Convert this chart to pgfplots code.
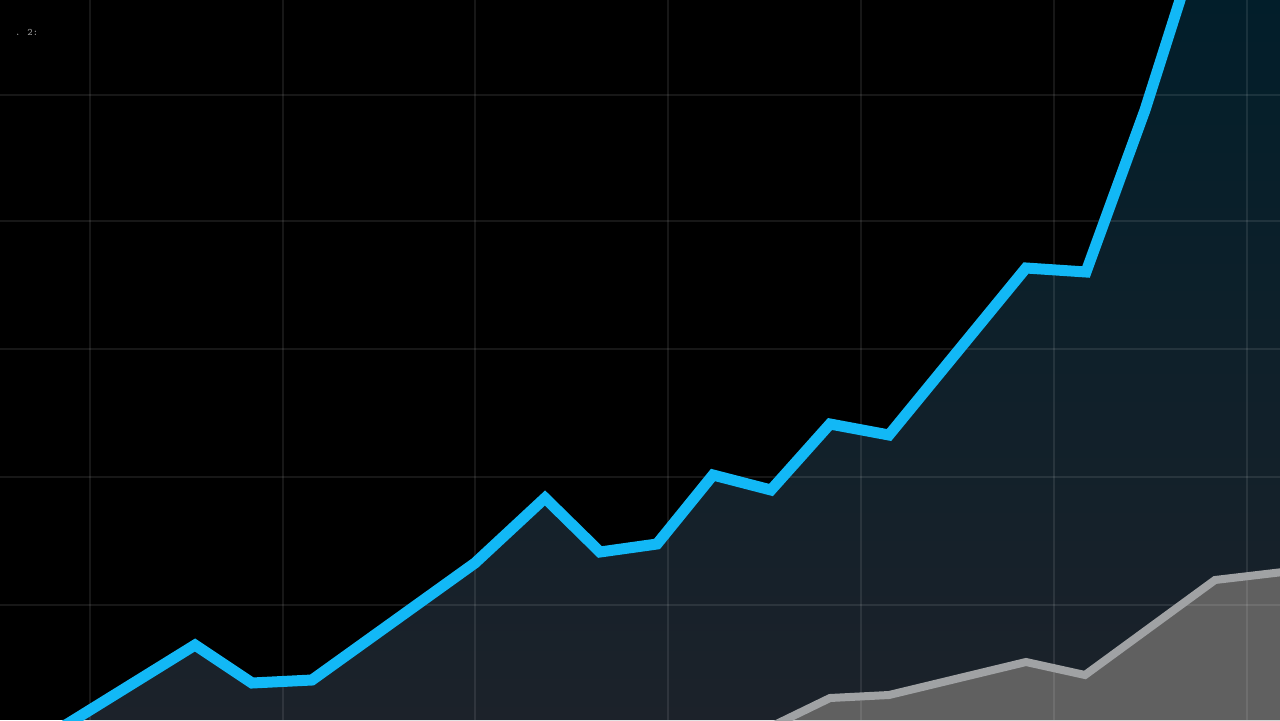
\documentclass[border=0pt]{standalone}
\usepackage{pgfplots}
\pgfplotsset{compat=1.18}
\definecolor{lineblue}{RGB}{18,184,246}
\definecolor{fillblueTop}{RGB}{2,30,42}
\definecolor{fillblueBot}{RGB}{28,34,42}
\definecolor{linegray}{RGB}{160,162,164}
\definecolor{fillgray}{RGB}{96,96,96}
\begin{document}
\begin{tikzpicture}
\begin{axis}[
    set layers,
    at={(0,0)}, anchor=south west,
    width=640pt, height=360pt,
    scale only axis,
    xmin=0, xmax=1280,
    ymin=0, ymax=720,
    axis background/.style={fill=black},
    axis line style={draw=none},
    xtick={90,283,475,668,861,1054,1247},
    ytick={115,243,371,499,625},
    xticklabels={}, yticklabels={},
    major tick length=0pt,
    grid=major,
    grid style={white, opacity=0.09, line width=0.9pt},
    clip=true,
]
% blue area
\addplot[on layer=axis background, draw=none, top color=fillblueTop, bottom color=fillblueBot]
  coordinates {
  (62,0)(90,10)(195,75)(252,37)(312,40)(475,157)(545,222)(600,168)(657,176)
  (713,245)(771,230)(830,296)(889,285)(1026,452)(1086,448)(1145,610)(1180,720)(1280,720)
  } \closedcycle;
% gray area
\addplot[on layer=axis background, draw=none, fill=fillgray]
  coordinates {
  (785,0)(830,22)(889,25)(1026,58)(1085,45)(1215,140)(1280,148)
  } \closedcycle;
% blue line
\addplot[lineblue, line width=5.5pt, line join=miter, miter limit=4]
  coordinates {
  (40,-21)(90,10)(195,75)(252,37)(312,40)(475,157)(545,222)(600,168)(657,176)
  (713,245)(771,230)(830,296)(889,285)(1026,452)(1086,448)(1145,610)(1180,720)(1200,790)
  };
% gray line
\addplot[linegray, line width=4pt, line join=miter]
  coordinates {
  (760,-12)(830,22)(889,25)(1026,58)(1085,45)(1215,140)(1300,150)
  };
\node[anchor=west, text=gray!80, font=\fontsize{5}{6}\selectfont\ttfamily] at (axis cs:8,688) {. 2:};
\end{axis}
\pgfresetboundingbox
\path (0,0) rectangle (640pt,360pt);
\end{tikzpicture}
\end{document}
